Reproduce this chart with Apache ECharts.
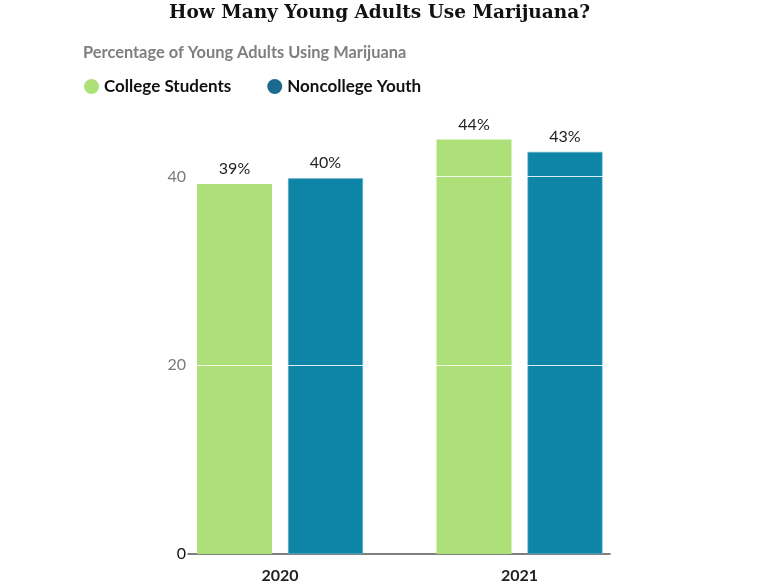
<!DOCTYPE html>
<html>
<head>
<meta charset="utf-8">
<script src="https://cdn.jsdelivr.net/npm/echarts@6/dist/echarts.min.js"></script>
<style>html,body{margin:0;padding:0;background:#fff}#c{width:768px;height:585px}</style>
</head>
<body>
<div id="c"></div>
<script>
const years = ['2020', '2021'];
const seriesNames = ['College Students', 'Noncollege Youth'];
const collegeValues = [39.2, 43.9];
const noncollegeValues = [39.8, 42.6];
const labelsCollege = ['39%', '44%'];
const labelsNoncollege = ['40%', '43%'];
const yTicks = [0, 20, 40];

const GREEN = '#aee079';
const TEAL = '#0e84a6';
const TEAL_LEGEND = '#1b6a8f';

const chart = echarts.init(document.getElementById('c'));
const TOP = 82, BOTTOM = 31, YMAX = 50;
const GRIDLINE = 'rgba(255,255,255,0.85)';
const NONE = 'rgba(0,0,0,0)';

chart.setOption({
  backgroundColor: '#fff',
  animation: false,
  title: [{
    text: 'How Many Young Adults Use Marijuana?',
    left: 169, top: 4, padding: 0,
    textStyle: { fontFamily: 'DejaVu Serif', fontWeight: 'bold', fontSize: 18.5, color: '#111' }
  }, {
    text: 'Percentage of Young Adults Using Marijuana',
    left: 83, top: 45, padding: 0,
    textStyle: { fontFamily: 'Lato', fontWeight: 'bold', fontSize: 16.4, color: '#7f7f7f' }
  }],
  legend: {
    left: 84, top: 78, padding: 0, z: 10,
    icon: 'circle', itemWidth: 15, itemHeight: 15, itemGap: 36,
    itemStyle: { borderWidth: 0 },
    textStyle: { fontFamily: 'Lato', fontWeight: 'bold', fontSize: 17, color: '#111' },
    data: [
      { name: seriesNames[0], itemStyle: { color: GREEN, borderWidth: 0 } },
      { name: seriesNames[1], itemStyle: { color: TEAL_LEGEND, borderWidth: 0 } }
    ]
  },
  grid: [
    { left: 160.25, right: 128.75, top: TOP, bottom: BOTTOM },
    { left: 188, right: 158, top: TOP, bottom: BOTTOM }
  ],
  xAxis: [{
    type: 'category', gridIndex: 0, data: years,
    axisLine: { show: false }, axisTick: { show: false },
    axisLabel: { margin: 14, fontFamily: 'Lato', fontWeight: 'bold', fontSize: 16, color: '#222' }
  }, {
    type: 'category', gridIndex: 1, data: years,
    axisLine: { show: true, lineStyle: { color: '#555', width: 1.5 } },
    axisTick: { show: false }, axisLabel: { show: false }, splitLine: { show: false }
  }],
  yAxis: [{
    type: 'value', gridIndex: 0, min: 0, max: YMAX, interval: 20, z: 5,
    axisLine: { show: false }, axisTick: { show: false }, axisLabel: { show: false },
    splitLine: { show: true, lineStyle: { color: [NONE, GRIDLINE, GRIDLINE, NONE], width: 1.2 } }
  }, {
    type: 'value', gridIndex: 1, min: 0, max: YMAX, interval: 20, z: 10,
    axisLine: { show: false }, axisTick: { show: false }, splitLine: { show: false },
    axisLabel: {
      margin: 2, showMaxLabel: false, fontFamily: 'Lato', fontSize: 16,
      color: function (v) { return Number(v) === 0 ? '#111' : '#7a7a7a'; }
    }
  }],
  series: [{
    name: seriesNames[0], type: 'bar', xAxisIndex: 0, yAxisIndex: 0,
    data: collegeValues, barWidth: 75, barGap: '21.3%',
    itemStyle: { color: GREEN },
    label: {
      show: true, position: 'top', distance: 7,
      fontFamily: 'Lato', fontSize: 16, color: '#222',
      formatter: p => labelsCollege[p.dataIndex]
    }
  }, {
    name: seriesNames[1], type: 'bar', xAxisIndex: 0, yAxisIndex: 0,
    data: noncollegeValues, barWidth: 75,
    itemStyle: { color: TEAL, borderColor: '#6fb6cc', borderWidth: 0.6 },
    label: {
      show: true, position: 'top', distance: 7,
      fontFamily: 'Lato', fontSize: 16, color: '#222',
      formatter: p => labelsNoncollege[p.dataIndex]
    }
  }]
});
</script>
</body>
</html>
